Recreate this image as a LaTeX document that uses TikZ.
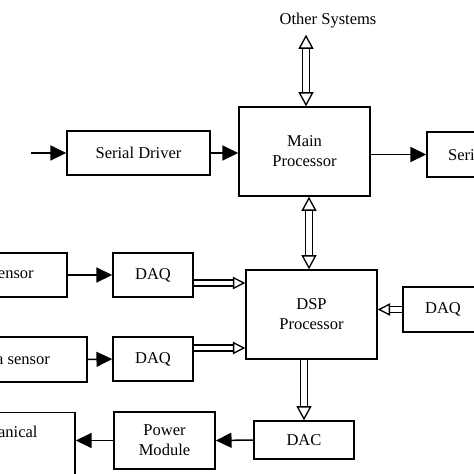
\documentclass[tikz,border=0pt]{standalone}
\usepackage{fontspec}
\setmainfont{Liberation Serif}
\usetikzlibrary{arrows.meta,positioning,calc}
\tikzstyle{block} = [draw,line width=0.85pt,align=center,inner sep=2pt]
\tikzstyle{bus} = [double,double distance=3.4pt,line width=0.75pt,arrows={{Triangle[open,length=8pt,width=8.5pt]}-{Triangle[open,length=8pt,width=8.5pt]}}]
\tikzstyle{busto} = [double,double distance=2.6pt,line width=0.75pt,-{Triangle[open,length=7pt,width=7pt]}]
\tikzset{>={Triangle[length=9pt,width=8.5pt]}}

\begin{document}
\begin{tikzpicture}[x=0.02cm,y=-0.02cm,font=\fontsize{9.4pt}{11.3pt}\selectfont]
    \useasboundingbox (0,0) rectangle (474,474);
    \clip (0,0) rectangle (474,474);

    % processors
    \node [block,minimum width=2.62cm,minimum height=1.78cm] (main) at (304.5,151.5) {Main\\Processor};
    \node [block,minimum width=2.62cm,minimum height=1.78cm] (dsp) at (311.5,314.5) {DSP\\Processor};
    \node (other) at (328,21) {Other Systems};

    \node [block,minimum width=2.86cm,minimum height=0.88cm] (serin) at (138.5,153) {Serial Driver};
    \node [block,minimum width=2.56cm,minimum height=0.9cm] (serout) at (491,154.5) {Serial Driver};

    % acquisition
    \node [block,minimum width=3.26cm,minimum height=0.88cm] (sensa) at (-14.5,275) {Voltage sensor};
    \node [block,minimum width=3.44cm,minimum height=0.9cm] (sensb) at (1,359.5) {Camera sensor};
    \node [block,minimum width=1.6cm,minimum height=0.88cm] (daqa) at (153,275) {DAQ};
    \node [block,minimum width=1.6cm,minimum height=0.88cm] (daqb) at (153,359) {DAQ};
    \node [block,minimum width=1.6cm,minimum height=0.9cm] (daqc) at (443,309.5) {DAQ};

    % output stage
    \node [block,minimum width=2cm,minimum height=0.76cm] (dac) at (304,440) {DAC};
    \node [block,minimum width=2.02cm,minimum height=1.14cm] (power) at (164.5,440.5) {Power\\Module};
    \node [block,anchor=north,inner ysep=0pt,minimum width=3.04cm,text height=0.5cm,text depth=1.5cm] (mech) at (-1,412) {Mechanical};

    \coordinate (in) at (31,153);
    \draw [line width=0.85pt,->] (in) -- (serin.west);
    \draw [line width=0.85pt,->] (serin.east) -- (serin.east -| main.west);
    \draw [line width=0.85pt,->] (main.east |- serout) -- (serout.west);
    \draw [line width=0.85pt,->] (sensa.east) -- (daqa.west);
    \draw [line width=0.85pt,->] (sensb.east) -- (daqb.west);
    \draw [line width=0.85pt,->] (dac.west) -- (power.east);
    \draw [line width=0.85pt,->] (power.west) -- (power.west -| mech.east);

    \draw [bus] ([xshift=0.03cm]main.north |- other.south) -- ([xshift=0.03cm]main.north);
    \draw [bus] ([xshift=0.09cm]main.south) -- ([xshift=0.09cm]main.south |- dsp.north);
    \draw [busto] ([yshift=-0.16cm]daqa.east) -- ([yshift=-0.16cm]daqa.east -| dsp.west);
    \draw [busto] ([yshift=0.22cm]daqb.east) -- ([yshift=0.22cm]daqb.east -| dsp.west);
    \draw [busto] (daqc.west) -- (daqc.west -| dsp.east);
    \draw [bus,arrows={-{Triangle[open,length=8pt,width=8.5pt]}}] (dsp.south -| dac.north) -- (dac.north);
  \end{tikzpicture}
\end{document}
